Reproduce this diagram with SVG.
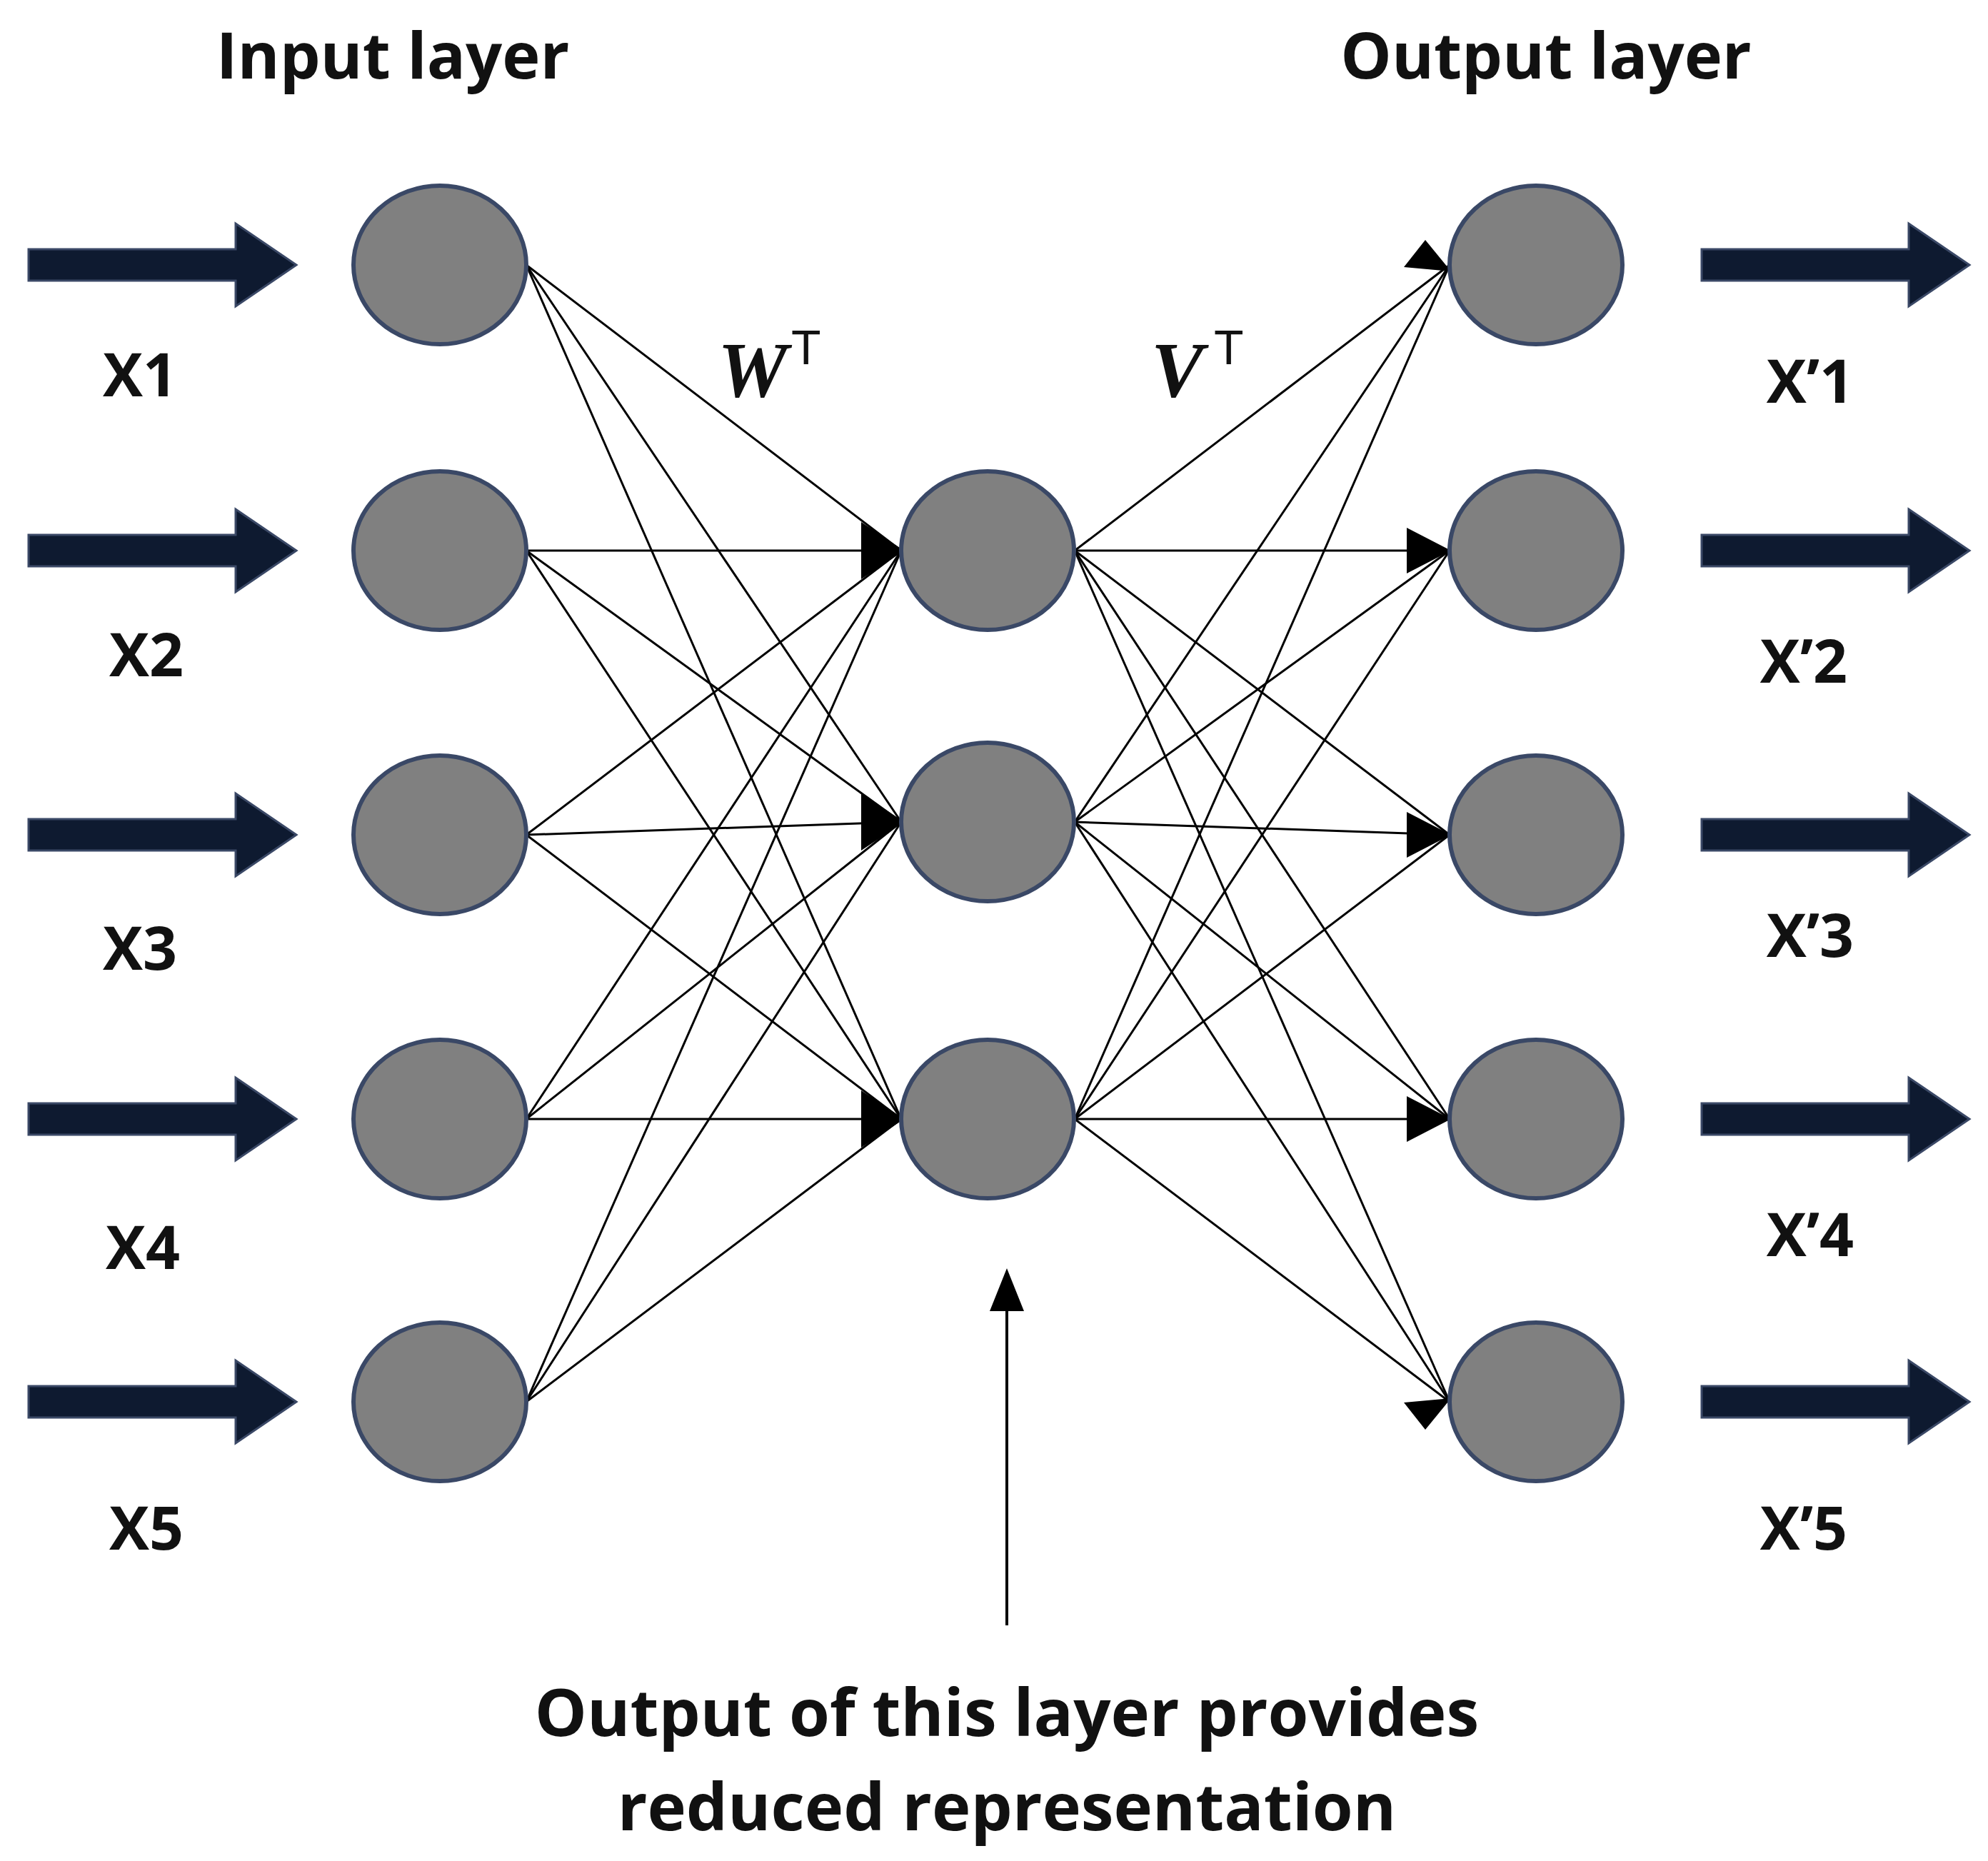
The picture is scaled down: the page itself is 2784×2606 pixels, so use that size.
<svg xmlns="http://www.w3.org/2000/svg" width="2784" height="2606" viewBox="0 0 2784 2606">
<style>
.n{fill:#808080;stroke:#3a4866;stroke-width:6}
.c{stroke:#000;stroke-width:3;fill:none}
.t{font-family:"Open Sans","DejaVu Sans",sans-serif;font-weight:bold;fill:#111}
.big{fill:#0e1a30;stroke:#3a4866;stroke-width:3}
</style>
<defs>
<path id="ba" d="M0,-22 L290,-22 L290,-58 L375,0 L290,58 L290,22 L0,22 Z"/>
</defs>
<rect width="2784" height="2606" fill="#fff"/>
<g id="connectors">
<g>
<path class="c" d="M737,371 L1262,771"/><path class="c" d="M737,371 L1262,1151"/><path class="c" d="M737,371 L1262,1567"/>
<path class="c" d="M737,771 L1262,771"/><path class="c" d="M737,771 L1262,1151"/><path class="c" d="M737,771 L1262,1567"/>
<path class="c" d="M737,1169 L1262,771"/><path class="c" d="M737,1169 L1262,1151"/><path class="c" d="M737,1169 L1262,1567"/>
<path class="c" d="M737,1567 L1262,771"/><path class="c" d="M737,1567 L1262,1151"/><path class="c" d="M737,1567 L1262,1567"/>
<path class="c" d="M737,1963 L1262,771"/><path class="c" d="M737,1963 L1262,1151"/><path class="c" d="M737,1963 L1262,1567"/>
<path class="c" d="M1505,771 L2030,371"/><path class="c" d="M1505,771 L2030,771"/><path class="c" d="M1505,771 L2030,1169"/><path class="c" d="M1505,771 L2030,1567"/><path class="c" d="M1505,771 L2030,1963"/>
<path class="c" d="M1505,1151 L2030,371"/><path class="c" d="M1505,1151 L2030,771"/><path class="c" d="M1505,1151 L2030,1169"/><path class="c" d="M1505,1151 L2030,1567"/><path class="c" d="M1505,1151 L2030,1963"/>
<path class="c" d="M1505,1567 L2030,371"/><path class="c" d="M1505,1567 L2030,771"/><path class="c" d="M1505,1567 L2030,1169"/><path class="c" d="M1505,1567 L2030,1567"/><path class="c" d="M1505,1567 L2030,1963"/>
</g>
<g fill="#000">
<path d="M1266,771 l-60,-40 l0,80 z"/><path d="M1266,1151 l-60,-40 l0,80 z"/><path d="M1266,1567 l-60,-40 l0,80 z"/>
<path d="M2032,380 l-66,-6 l30,-38 z"/><path d="M2032,771 l-62,-32 l0,64 z"/><path d="M2032,1169 l-62,-32 l0,64 z"/><path d="M2032,1567 l-62,-32 l0,64 z"/><path d="M2032,1958 l-66,6 l30,38 z"/>
</g>
<line x1="1410" y1="2276" x2="1410" y2="1830" stroke="#000" stroke-width="4"/>
<path d="M1410,1776 L1386,1836 L1434,1836 Z" fill="#000"/>
<g class="big">
<use href="#ba" x="40" y="371"/><use href="#ba" x="40" y="771"/><use href="#ba" x="40" y="1169"/><use href="#ba" x="40" y="1567"/><use href="#ba" x="40" y="1963"/>
<use href="#ba" x="2383" y="371"/><use href="#ba" x="2383" y="771"/><use href="#ba" x="2383" y="1169"/><use href="#ba" x="2383" y="1567"/><use href="#ba" x="2383" y="1963"/>
</g>
</g>
<g id="in1"><ellipse class="n" cx="616" cy="371" rx="121" ry="111"/></g>
<g id="in2"><ellipse class="n" cx="616" cy="771" rx="121" ry="111"/></g>
<g id="in3"><ellipse class="n" cx="616" cy="1169" rx="121" ry="111"/></g>
<g id="in4"><ellipse class="n" cx="616" cy="1567" rx="121" ry="111"/></g>
<g id="in5"><ellipse class="n" cx="616" cy="1963" rx="121" ry="111"/></g>
<g id="h1"><ellipse class="n" cx="1383" cy="771" rx="121" ry="111"/></g>
<g id="h2"><ellipse class="n" cx="1383" cy="1151" rx="121" ry="111"/></g>
<g id="h3"><ellipse class="n" cx="1383" cy="1567" rx="121" ry="111"/></g>
<g id="o1"><ellipse class="n" cx="2151" cy="371" rx="121" ry="111"/></g>
<g id="o2"><ellipse class="n" cx="2151" cy="771" rx="121" ry="111"/></g>
<g id="o3"><ellipse class="n" cx="2151" cy="1169" rx="121" ry="111"/></g>
<g id="o4"><ellipse class="n" cx="2151" cy="1567" rx="121" ry="111"/></g>
<g id="o5"><ellipse class="n" cx="2151" cy="1963" rx="121" ry="111"/></g>
<g class="t" text-anchor="middle">
<text x="550" y="110" font-size="90">Input layer</text>
<text x="2165" y="110" font-size="90">Output layer</text>
<g font-size="84">
<text x="196" y="555">X1</text><text x="205" y="947">X2</text><text x="196" y="1358">X3</text><text x="200" y="1777">X4</text><text x="205" y="2170">X5</text>
<text x="2535" y="564">X’1</text><text x="2526" y="956">X’2</text><text x="2535" y="1340">X’3</text><text x="2535" y="1759">X’4</text><text x="2526" y="2170">X’5</text>
</g>
<g font-size="92">
<text x="1410" y="2431">Output of this layer provides</text>
<text x="1410" y="2563">reduced representation</text>
</g>
</g>
<g font-family="'Liberation Serif',serif" fill="#111">
<text x="1005" y="555" font-size="110" font-weight="bold" font-style="italic">W</text><text x="1108" y="510" font-size="68" font-family="'Liberation Sans',sans-serif">T</text>
<text x="1612" y="555" font-size="110" font-weight="bold" font-style="italic">V</text><text x="1700" y="510" font-size="68" font-family="'Liberation Sans',sans-serif">T</text>
</g>
</svg>
